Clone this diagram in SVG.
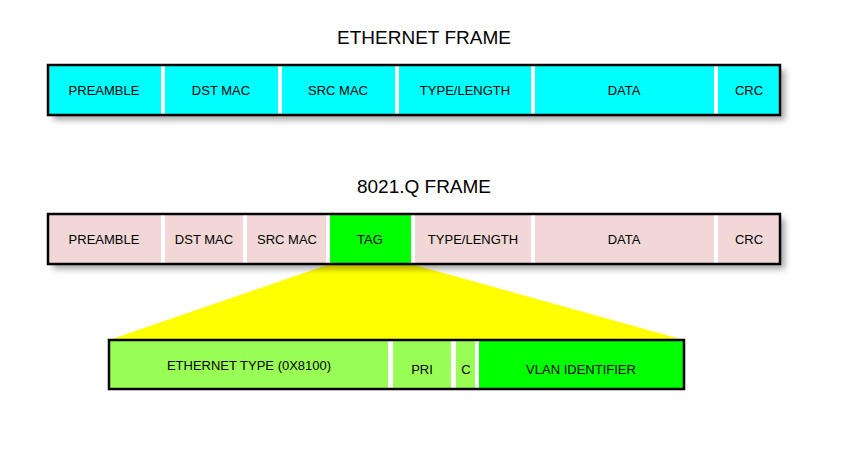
<svg xmlns="http://www.w3.org/2000/svg" width="846" height="468" viewBox="0 0 846 468">
<style>
text{font-family:"Liberation Sans",Arial,sans-serif;font-size:13px;text-anchor:middle;fill:#000}
.t{font-size:19px}
.o{fill:none;stroke:#000;stroke-width:2.5}
.c{fill:#00ffff}.p{fill:#f2d7d7}.g{fill:#00ff00}.l{fill:#99ff55}
</style>
<defs><filter id="sh" x="-5%" y="-20%" width="115%" height="160%"><feGaussianBlur stdDeviation="3"/></filter></defs>
<rect width="846" height="468" fill="#fff"/>
<text class="t" x="424" y="44">ETHERNET FRAME</text>
<text class="t" x="424" y="193">8021.Q FRAME</text>
<g id="connectors"><polygon points="330,264 411,264 684,340 109,340" fill="#ffff00"/></g>
<g id="frame1">
<rect x="53" y="70" width="732" height="50" fill="#000" opacity="0.35" filter="url(#sh)"/>
<rect x="48" y="65" width="732" height="50" fill="#fff"/>
<rect class="c" x="48" y="65" width="113" height="50"/><text x="104" y="95">PREAMBLE</text>
<rect class="c" x="165" y="65" width="113" height="50"/><text x="221" y="95">DST MAC</text>
<rect class="c" x="282" y="65" width="113" height="50"/><text x="338" y="95">SRC MAC</text>
<rect class="c" x="399" y="65" width="132" height="50"/><text x="465" y="95">TYPE/LENGTH</text>
<rect class="c" x="535" y="65" width="179" height="50"/><text x="624" y="95">DATA</text>
<rect class="c" x="718" y="65" width="62" height="50"/><text x="749" y="95">CRC</text>
<rect class="o" x="48" y="65" width="732" height="50"/>
</g>
<g id="frame2">
<rect x="53" y="219" width="732" height="50" fill="#000" opacity="0.35" filter="url(#sh)"/>
<rect x="48" y="214" width="732" height="50" fill="#fff"/>
<rect class="p" x="48" y="214" width="113" height="50"/><text x="104" y="244">PREAMBLE</text>
<rect class="p" x="165" y="214" width="78" height="50"/><text x="204" y="244">DST MAC</text>
<rect class="p" x="247" y="214" width="79" height="50"/><text x="287" y="244">SRC MAC</text>
<rect class="g" x="330" y="214" width="81" height="50"/><text x="370" y="244">TAG</text>
<rect class="p" x="415" y="214" width="116" height="50"/><text x="473" y="244">TYPE/LENGTH</text>
<rect class="p" x="535" y="214" width="179" height="50"/><text x="624" y="244">DATA</text>
<rect class="p" x="718" y="214" width="62" height="50"/><text x="749" y="244">CRC</text>
<rect class="o" x="48" y="214" width="732" height="50"/>
</g>
<g id="tag">
<rect x="109" y="340" width="575" height="49" fill="#fff"/>
<rect class="l" x="109" y="340" width="279" height="49"/><text x="249" y="370">ETHERNET TYPE (0X8100)</text>
<rect class="l" x="393" y="340" width="58" height="49"/><text x="422" y="374">PRI</text>
<rect class="l" x="456" y="340" width="19" height="49"/><text x="466" y="374">C</text>
<rect class="g" x="479" y="340" width="205" height="49"/><text x="581" y="374">VLAN IDENTIFIER</text>
<rect class="o" x="109" y="340" width="575" height="49"/>
</g>
</svg>
